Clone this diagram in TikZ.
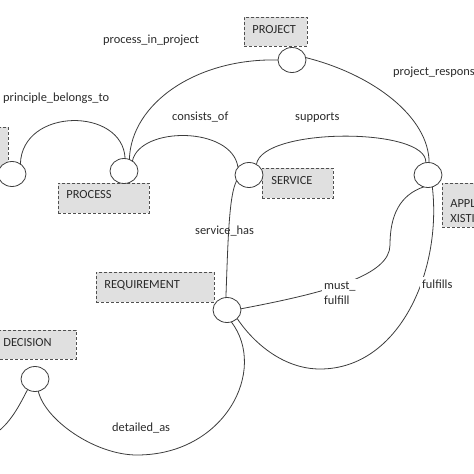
\documentclass[tikz,border=0pt]{standalone}
\usepackage{fontspec}
\setmainfont{Carlito}
\usetikzlibrary{shapes.geometric}
\definecolor{ln}{HTML}{3C3C3C}
\definecolor{tx}{HTML}{2A2A2A}
\definecolor{bx}{HTML}{E0E0E0}
\definecolor{bd}{HTML}{505050}
\pgfdeclarelayer{bglayer}
\pgfsetlayers{bglayer,main}
\begin{document}
\begin{tikzpicture}[x=1pt,y=-1pt,
  ent/.style={ellipse, draw=ln, fill=white, line width=0.8pt, minimum width=28pt, minimum height=25pt, inner sep=0pt, outer sep=0pt},
  conn/.style={draw=ln, line width=0.8pt},
  lbl/.style={font=\fontsize{12.4}{15}\selectfont, text=tx, inner sep=0pt, anchor=base west},
  lblw/.style={lbl, fill=white, inner sep=2pt},
  ebox/.style={draw=bd, fill=bx, dash pattern=on 3pt off 2pt, line width=0.8pt, inner ysep=0pt, inner xsep=8pt, align=left, font=\fontsize{12.4}{15}\selectfont, text=tx, anchor=base west},
]
\useasboundingbox (0,0) rectangle (474,474);
\clip (0,0) rectangle (474,474);

% entity boxes
\begin{pgfonlayer}{bglayer}
\node[ebox, text width=12pt, text height=28pt, text depth=17pt] (bleft) at (-20,155) {};
\node[ebox, text width=75pt, text height=15pt, text depth=15pt] (bprocess) at (58,198) {PROCESS};
\node[ebox, text width=47pt, text height=16pt, text depth=13pt] (bproject) at (244,33) {PROJECT};
\node[ebox, inner xsep=9pt, text width=53pt, text height=16pt, text depth=14pt] (bservice) at (262,184) {SERVICE};
\node[ebox, text width=90pt, text height=24pt, text depth=20pt] (bapp) at (442,207) {APPLICATION\_E\\XISTING};
\node[ebox, text width=102pt, text height=16pt, text depth=14pt] (breq) at (96,288) {REQUIREMENT};
\node[ebox, text width=65pt, text height=16pt, text depth=13pt] (bdec) at (-5,346) {DECISION};
\end{pgfonlayer}

% relation circles
\node[ent] (L) at (12,174) {};
\node[ent] (P) at (124,171) {};
\node[ent] (S) at (249,175) {};
\node[ent] (J) at (292,60) {};
\node[ent] (A) at (428,175) {};
\node[ent] (R) at (227,310) {};
\node[ent] (D) at (35,379) {};
\coordinate (dend) at (-4,433);

% connectors
\draw[conn] (L.50) .. controls (22,107) and (123,107) .. (P.85);
\draw[conn] (P.65) .. controls (131,103) and (197,58) .. (J.180);
\draw[conn] (J.10) .. controls (375,75) and (429,118) .. (A.85);
\draw[conn] (P.50) .. controls (140,126) and (232,126) .. (S.145);
\draw[conn] (S.55) .. controls (262,127) and (428,127) .. (A.100);
\draw[conn] (S.205) .. controls (229,195) and (228,240) .. (R.95);
\draw[conn] (A.250) .. controls (400,195) and (390,215) .. (390,245) .. controls (390,275) and (330,292) .. (R.5);
\draw[conn] (A.290) .. controls (442,270) and (400,369) .. (320,369) .. controls (285,369) and (255,345) .. (R.320);
\draw[conn] (R.290) .. controls (268,370) and (225,455) .. (137,455) .. controls (95,455) and (45,420) .. (D.285);
\draw[conn] (D.235) .. controls (22,400) and (12,422) .. (dend);

% labels
\node[lbl] (t1) at (103,43) {process\_in\_project};
\node[lbl] (t2) at (3,101) {principle\_belongs\_to};
\node[lbl] (t3) at (172,120) {consists\_of};
\node[lbl] (t4) at (295,120) {supports};
\node[lbl] (t5) at (393,75) {project\_responsible};
\node[lbl] (t6) at (195,234) {service\_has};
\node[lblw, align=left] (t7) at (322,304) {must\_\\fulfill};
\node[lblw] (t8) at (420,288) {fulfills};
\node[lbl] (t9) at (112,431) {detailed\_as};
\end{tikzpicture}
\end{document}
